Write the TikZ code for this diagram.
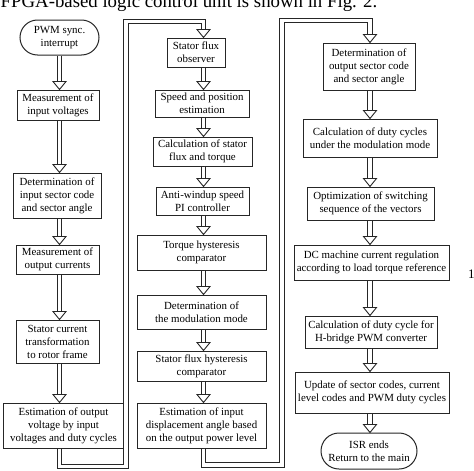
\documentclass[tikz,border=0pt]{standalone}
\usepackage{fontspec}
\setmainfont{Liberation Serif}
\usetikzlibrary{shapes.misc,calc}
\tikzset{
  box/.style={draw=black!85, line width=1pt, fill=white, inner sep=1pt, align=center,
    font=\fontsize{10.9}{13}\selectfont},
  term/.style={box, rounded rectangle},
  conn/.style={draw=black!85, line width=0.9pt, double=white, double distance=3.6pt, line join=miter},
  headst/.style={draw=black!85, line width=0.9pt, fill=white, line join=miter},
}
\newcommand{\ahead}[1]{\draw[headst] (#1) -- ++(-6.5,-8) -- ++(13,0) -- cycle;}
\newcommand{\varr}[3]{\draw[conn] (#1 |- #2.south) -- ([yshift=8pt]#1 |- #3.north); \ahead{#1 |- #3.north}}
\begin{document}
\begin{tikzpicture}[x=1pt,y=-1pt]
\useasboundingbox (0,0) rectangle (474,471);
\node[anchor=base west, font=\fontsize{18.8}{20}\selectfont, inner sep=0] (cap) at (0.5,7.5) {FPGA-based logic control unit is shown in Fig. 2.};
\node[anchor=base west, font=\fontsize{13}{15}\selectfont, inner sep=0] (one) at (468,278) {1};

\coordinate (X1) at (59.5,0);
\coordinate (X2) at (203.5,0);
\coordinate (X3) at (370,0);

% column 1
\node[term, minimum width=81pt, minimum height=35pt] (a1) at (59.5,37.5) {PWM sync.\\interrupt};
\node[box, minimum width=82pt, minimum height=30pt] (a2) at (58,105) {Measurement of\\input voltages};
\node[box, minimum width=88pt, minimum height=45pt] (a3) at (57,195.5) {Determination of\\input sector code\\and sector angle};
\node[box, minimum width=83pt, minimum height=29pt] (a4) at (57.5,259.5) {Measurement of\\output currents};
\node[box, minimum width=83pt, minimum height=43pt] (a5) at (57.5,341.5) {Stator current\\transformation\\to rotor frame};
\node[box, minimum width=121pt, minimum height=45pt] (a6) at (63.5,425.5) {Estimation of output\\voltage by input\\voltages and duty cycles};

% column 2
\node[box, minimum width=58pt, minimum height=29pt] (b1) at (196,52.5) {Stator flux\\observer};
\node[box, minimum width=94pt, minimum height=27pt] (b2) at (202,103.5) {Speed and position\\estimation};
\node[box, minimum width=99pt, minimum height=29pt] (b3) at (202.5,151.5) {Calculation of stator\\flux and torque};
\node[box, minimum width=93pt, minimum height=28pt] (b4) at (202.5,201) {Anti-windup speed\\PI controller};
\node[box, minimum width=129pt, minimum height=35pt] (b5) at (201.5,252.5) {Torque hysteresis\\comparator};
\node[box, minimum width=129pt, minimum height=34pt] (b6) at (201.5,312) {Determination of\\the modulation mode};
\node[box, minimum width=129pt, minimum height=30pt] (b7) at (201.5,366) {Stator flux hysteresis\\comparator};
\node[box, minimum width=129pt, minimum height=45pt] (b8) at (201.5,425.5) {Estimation of input\\displacement angle based\\on the output power level};

% column 3
\node[box, minimum width=92pt, minimum height=47pt] (c1) at (369,66.5) {Determination of\\output sector code\\and sector angle};
\node[box, minimum width=134pt, minimum height=38pt] (c2) at (370,138) {Calculation of duty cycles\\under the modulation mode};
\node[box, minimum width=127pt, minimum height=33pt] (c3) at (370.5,203.5) {Optimization of switching\\sequence of the vectors};
\node[box, minimum width=155pt, minimum height=35pt] (c4) at (371.5,262.5) {DC machine current regulation\\according to load torque reference};
\node[box, minimum width=132pt, minimum height=32pt] (c5) at (371,332) {Calculation of duty cycle for\\H-bridge PWM converter};
\node[box, minimum width=154pt, minimum height=41pt] (c6) at (372,392.5) {Update of sector codes, current\\level codes and PWM duty cycles};
\node[term, minimum width=98pt, minimum height=36pt] (c7) at (369,451) {ISR ends\\Return to the main};

% vertical arrows
\varr{X1}{a1}{a2}
\varr{X1}{a2}{a3}
\varr{X1}{a3}{a4}
\varr{X1}{a4}{a5}
\varr{X1}{a5}{a6}
\varr{X2}{b1}{b2}
\varr{X2}{b2}{b3}
\varr{X2}{b3}{b4}
\varr{X2}{b4}{b5}
\varr{X2}{b5}{b6}
\varr{X2}{b6}{b7}
\varr{X2}{b7}{b8}
\varr{X3}{c1}{c2}
\varr{X3}{c2}{c3}
\varr{X3}{c3}{c4}
\varr{X3}{c4}{c5}
\varr{X3}{c5}{c6}
\varr{X3}{c6}{c7}

% column-to-column connectors
\coordinate (B1) at (126,466.5);
\coordinate (T1) at (126,21.5);
\coordinate (B2) at (282,465);
\coordinate (T2) at (282,20.5);
\draw[conn] (X1 |- a6.south) -- (X1 |- B1) -- (B1) -- (T1) -- (X2 |- T1) -- ([yshift=8pt]X2 |- b1.north);
\ahead{X2 |- b1.north}
\draw[conn] (X2 |- b8.south) -- (X2 |- B2) -- (B2) -- (T2) -- (X3 |- T2) -- ([yshift=8pt]X3 |- c1.north);
\ahead{X3 |- c1.north}
\end{tikzpicture}
\end{document}
